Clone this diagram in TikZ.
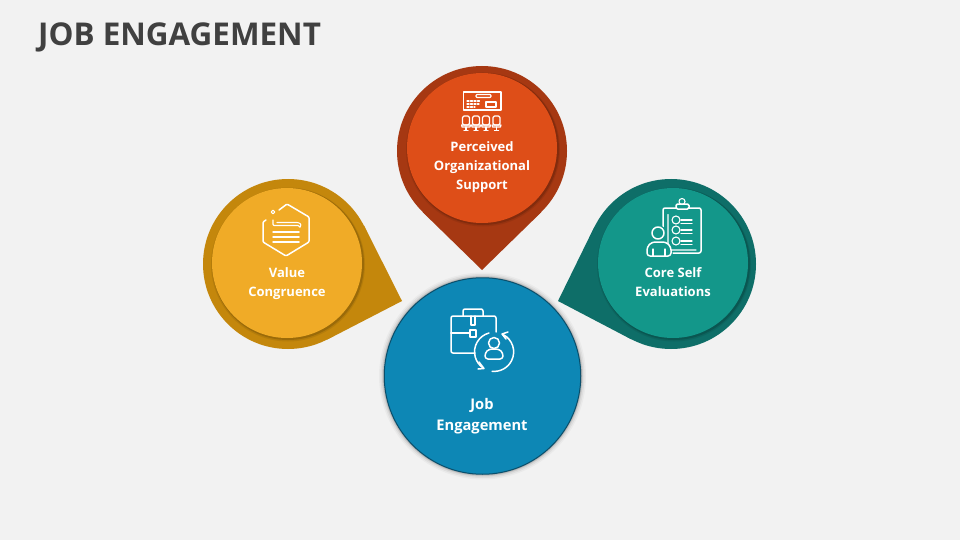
\documentclass[tikz,border=0pt]{standalone}
\usepackage{fontspec}
\setmainfont{Open Sans}
\usetikzlibrary{calc}
\definecolor{pagebg}{HTML}{F2F2F2}
\definecolor{titlegray}{HTML}{404040}
\definecolor{reddark}{HTML}{A63812}
\definecolor{redfill}{HTML}{DE4E18}
\definecolor{yellowdark}{HTML}{C4870C}
\definecolor{yellowfill}{HTML}{F0AB27}
\definecolor{tealdark}{HTML}{0E6E68}
\definecolor{tealfill}{HTML}{13978A}
\definecolor{bluefill}{HTML}{0D87B5}
\definecolor{blueedge}{HTML}{0A4F6C}
\tikzset{
    pinbase/.style={circle, minimum size=170pt, inner sep=0pt},
    petaltext/.style={text=white, align=center, font=\fontsize{13pt}{19pt}\selectfont\bfseries},
    hubtext/.style={text=white, align=center, font=\fontsize{14.7pt}{21pt}\selectfont\bfseries},
    icon/.style={draw=white, line width=1.5pt, line join=round, line cap=round},
    thinicon/.style={draw=white, line width=1.1pt, line join=round, line cap=round}
}
\begin{document}
\begin{tikzpicture}[x=1pt, y=-1pt]
    \useasboundingbox (0,0) rectangle (960,540);
    \fill[pagebg] (0,0) rectangle (960,540);
    \node[anchor=west, inner sep=0pt, text=titlegray, font=\fontsize{31.4pt}{38pt}\selectfont\bfseries] (title) at (38,37) {JOB ENGAGEMENT};

    % pins behind the circles
    \foreach \cx/\cy/\tx/\ty/\col/\nm in {482/151/482/270/reddark/top, 288/264/402/301/yellowdark/left, 671/264/558/301/tealdark/right}{
        \node[pinbase, fill=\col] (\nm pin) at (\cx,\cy) {};
        \coordinate (\nm tip) at (\tx,\ty);
        \fill[\col] (\nm tip) -- (tangent cs:node=\nm pin,point={(\nm tip)},solution=1) -- (tangent cs:node=\nm pin,point={(\nm tip)},solution=2) -- cycle;
    }

    % circles
    \foreach \cx/\cy/\col/\nm in {482/148/redfill/top, 287/263/yellowfill/left, 673/263/tealfill/right}{
        \fill[black, opacity=0.08] (\cx+1,\cy+1.5) circle[radius=77];
        \fill[black, opacity=0.14] (\cx+1,\cy+1) circle[radius=76];
        \node[circle, fill=\col, minimum size=150pt, inner sep=0pt] (\nm) at (\cx,\cy) {};
    }
    \foreach \r/\o in {103.5/0.03, 102/0.05, 100.5/0.08, 99.5/0.12}{
        \fill[black, opacity=\o] (482.5,376) circle[radius=\r];
    }
    \node[circle, fill=bluefill, draw=blueedge, line width=1pt, minimum size=196.5pt, inner sep=0pt] (hub) at (482.5,376) {};

    % labels
    \node[petaltext] (toplabel) at (482,167.5) {Perceived\\Organizational\\Support};
    \node[petaltext] (leftlabel) at (287,284) {Value\\Congruence};
    \node[petaltext] (rightlabel) at (673,282) {Core Self\\Evaluations};
    \node[hubtext] (hublabel) at (482,416) {Job\\Engagement};

    % screen and seats
    \draw[icon] (463.5,92) rectangle (501,110);
    \draw[thinicon, rounded corners=1pt] (476,94.5) rectangle (491,97.5);
    \draw[thinicon] (486,102) rectangle (496,107);
    \draw[thinicon, dash pattern=on 2pt off 1.5pt] (467,101) -- (481,101);
    \draw[thinicon, dash pattern=on 2pt off 1.5pt] (467,104) -- (479,104);
    \draw[thinicon, dash pattern=on 2pt off 1.5pt] (467,107) -- (475,107);
    \foreach \sx in {466,476,486,496.5}{
        \draw[thinicon, rounded corners=1.5pt] (\sx-3.5,116) rectangle (\sx+3.5,125);
        \draw[thinicon] (\sx-4.5,125) -- (\sx+4.5,125) -- (\sx+4,127) -- (\sx-4,127) -- cycle;
        \draw[thinicon] (\sx,127) -- (\sx,130);
        \draw[thinicon] (\sx-2,130.5) -- (\sx+2,130.5);
    }

    % hexagon with lines
    \draw[icon, rounded corners=1pt] (279,210) -- (287,204) -- (309,217) -- (309,242) -- (286,256) -- (263,242) -- (263,222) -- (266,220);
    \draw[thinicon] (273,212) circle[radius=1.8];
    \draw[thinicon, rounded corners=1pt] (273,220) -- (273,225.5) -- (299,225.5) -- (300,228) -- (301,224) -- (298,222.5) -- (277,222.5);
    \draw[icon] (273,232) -- (299,232);
    \draw[icon] (273,237) -- (299,237);
    \draw[icon] (273,242) -- (299,242);

    % clipboard and person
    \draw[icon, rounded corners=2pt] (663,229) -- (663,208) -- (701,208) -- (701,253) -- (673,253);
    \draw[thinicon, rounded corners=1.5pt] (668,228) -- (668,213) -- (668,250) -- (696,250);
    \draw[icon, fill=tealfill, rounded corners=1.5pt] (676,209) -- (676,204) -- (689,204) -- (689,209) -- cycle;
    \draw[thinicon] (682,201.5) circle[radius=3];
    \foreach \ry in {220,230,241}{
        \draw[thinicon] (676,\ry) circle[radius=4];
        \draw[thinicon] (681,\ry) -- (692,\ry);
        \draw[thinicon] (681,\ry+3.5) -- (692,\ry+3.5);
    }
    \fill[tealfill] (658,233) circle[radius=8];
    \draw[icon] (658,233) circle[radius=6];
    \draw[icon, fill=tealfill, rounded corners=3pt] (647,256) -- (647,247) -- (652,242) -- (666,242) -- (671,247) -- (671,256) -- cycle;
    \draw[thinicon] (653,249) -- (653,256);
    \draw[thinicon] (665,249) -- (665,256);

    % briefcase and person
    \draw[icon, rounded corners=2pt] (451,333) -- (451,353) -- (475,353);
    \draw[icon, rounded corners=2pt] (451,333) -- (451,316) -- (496,316) -- (496,332);
    \draw[icon] (451,333) -- (470,333);
    \draw[icon, rounded corners=2pt] (463,316) -- (463,309) -- (483,309) -- (483,316);
    \draw[thinicon] (471,316) -- (471,325) -- (475,325) -- (475,316);
    \draw[thinicon] (470,330) rectangle (476,337);
    \draw[icon] (503,334.5) arc[start angle=63, end angle=-96, radius=19.5pt];
    \draw[icon] (489,333) arc[start angle=105, end angle=235, radius=19.5pt];
    \draw[icon] (508,332) -- (502,334) -- (506,339);
    \draw[icon] (479,362) -- (484,368.5) -- (478,369);
    \draw[icon] (494,343) circle[radius=5.5];
    \draw[icon, rounded corners=3pt] (485,359) -- (485,353) -- (489,349) -- (499,349) -- (503,353) -- (503,359) -- cycle;
\end{tikzpicture}
\end{document}
